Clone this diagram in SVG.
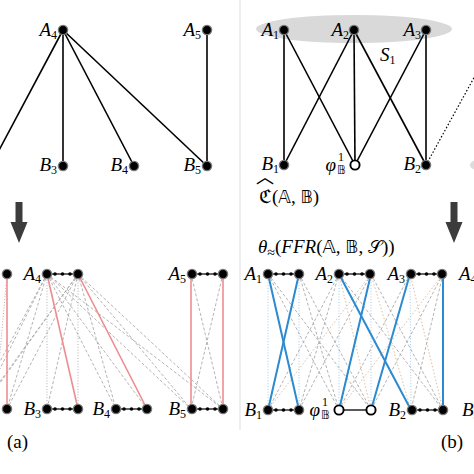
<svg xmlns="http://www.w3.org/2000/svg" width="474" height="474" viewBox="0 0 474 474">
<style>
.e{stroke:#000;stroke-width:1.6;fill:none}
.g{stroke:#aaa;stroke-width:0.9;stroke-dasharray:3,2;fill:none}
.gv{stroke:#aaa;stroke-width:0.9;stroke-dasharray:1,1.8;fill:none}
.bv{stroke:#9cc3e6;stroke-width:0.9;stroke-dasharray:1,1.8;fill:none}
.t{stroke:#d9b79a;stroke-width:0.9;stroke-dasharray:1.5,2;fill:none}
.r{stroke:#ee8c90;stroke-width:1.6;fill:none}
.b{stroke:#2b8ad0;stroke-width:2;fill:none}
.lb{font-family:"Liberation Serif","DejaVu Serif",serif;font-style:italic;font-size:19px;fill:#000}
.sb{font-size:12px;font-style:normal}
.m{font-family:"Liberation Serif","DejaVu Serif",serif;font-size:19px;fill:#000}
.ds{font-family:"DejaVu Sans",sans-serif;font-style:normal}
</style>
<defs>
<g id="n"><circle r="4.6" fill="#000" stroke="#777" stroke-width="1.4"/></g>
<g id="o"><circle r="4.6" fill="#fff" stroke="#000" stroke-width="1.9"/></g>
<g id="p"><line x1="0" y1="0" x2="31" y2="0" stroke="#000" stroke-width="1.2"/><circle cx="8" r="1.8"/><circle cx="15.5" r="1.8"/><circle cx="23" r="1.8"/><use href="#n"/><use href="#n" x="31"/></g>
<g id="op"><line x1="0" y1="0" x2="32" y2="0" stroke="#000" stroke-width="1.3"/><use href="#o"/><use href="#o" x="32"/></g>
<g id="arr"><rect x="-3.5" y="0" width="7" height="21" fill="#3c3c3c"/><polygon points="-8.5,20 8.5,20 0,41" fill="#3c3c3c"/></g>
</defs>
<rect width="474" height="474" fill="#fff"/>
<line x1="240" y1="0" x2="240" y2="430" stroke="#ddd" stroke-width="1"/>
<ellipse cx="354" cy="29" rx="98" ry="14" fill="#d9d9d9"/>
<ellipse cx="482" cy="165" rx="12" ry="6" fill="#dcdcdc"/>

<g id="connectors">
<line class="e" x1="63" y1="30" x2="-3" y2="154"/>
<line class="e" x1="63" y1="30" x2="63" y2="166"/>
<line class="e" x1="63" y1="30" x2="134" y2="166"/>
<line class="e" x1="63" y1="30" x2="207" y2="166"/>
<line class="e" x1="207" y1="30" x2="207" y2="166"/>
<line class="e" x1="284" y1="30" x2="284" y2="165"/>
<line class="e" x1="284" y1="30" x2="355" y2="165"/>
<line class="e" x1="354" y1="30" x2="284" y2="165"/>
<line class="e" x1="354" y1="30" x2="355" y2="165"/>
<line class="e" x1="354" y1="30" x2="426" y2="165"/>
<line class="e" x1="426" y1="30" x2="355" y2="165"/>
<line class="e" x1="426" y1="30" x2="426" y2="165"/>
<line x1="426" y1="165" x2="476" y2="74" stroke="#000" stroke-width="1.2" stroke-dasharray="1.5,2"/>
<line class="g" x1="47" y1="274" x2="-20" y2="409"/>
<line class="g" x1="78" y1="274" x2="-20" y2="409"/>
<line class="g" x1="47" y1="274" x2="7" y2="409"/>
<line class="g" x1="78" y1="274" x2="7" y2="409"/>
<line class="g" x1="47" y1="274" x2="-10" y2="380"/>
<line class="g" x1="78" y1="274" x2="-5" y2="390"/>
<line class="gv" x1="47" y1="274" x2="47" y2="409"/>
<line class="gv" x1="78" y1="274" x2="78" y2="409"/>
<line class="g" x1="78" y1="274" x2="47" y2="409"/>
<line class="g" x1="47" y1="274" x2="116" y2="409"/>
<line class="g" x1="47" y1="274" x2="147" y2="409"/>
<line class="g" x1="78" y1="274" x2="116" y2="409"/>
<line class="g" x1="47" y1="274" x2="191" y2="409"/>
<line class="g" x1="47" y1="274" x2="223" y2="409"/>
<line class="g" x1="78" y1="274" x2="191" y2="409"/>
<line class="g" x1="78" y1="274" x2="223" y2="409"/>
<line class="g" x1="191" y1="274" x2="223" y2="409"/>
<line class="g" x1="223" y1="274" x2="191" y2="409"/>
<line class="gv" x1="7" y1="274" x2="-5" y2="409"/>
<line class="r" x1="7" y1="274" x2="7" y2="409"/>
<line class="r" x1="47" y1="274" x2="78" y2="409"/>
<line class="r" x1="78" y1="274" x2="147" y2="409"/>
<line class="r" x1="191" y1="274" x2="191" y2="409"/>
<line class="r" x1="223" y1="274" x2="223" y2="409"/>
<line class="bv" x1="268" y1="274" x2="268" y2="410"/>
<line class="bv" x1="299" y1="274" x2="299" y2="410"/>
<line class="t" x1="268" y1="274" x2="299" y2="410"/>
<line class="t" x1="299" y1="274" x2="268" y2="410"/>
<line class="g" x1="268" y1="274" x2="339" y2="410"/>
<line class="g" x1="268" y1="274" x2="371" y2="410"/>
<line class="g" x1="299" y1="274" x2="339" y2="410"/>
<line class="g" x1="299" y1="274" x2="371" y2="410"/>
<line class="g" x1="339" y1="274" x2="268" y2="410"/>
<line class="g" x1="339" y1="274" x2="299" y2="410"/>
<line class="t" x1="371" y1="274" x2="268" y2="410"/>
<line class="g" x1="371" y1="274" x2="299" y2="410"/>
<line class="bv" x1="339" y1="274" x2="339" y2="410"/>
<line class="bv" x1="371" y1="274" x2="371" y2="410"/>
<line class="t" x1="339" y1="274" x2="371" y2="410"/>
<line class="g" x1="339" y1="274" x2="443" y2="410"/>
<line class="t" x1="371" y1="274" x2="411" y2="410"/>
<line class="g" x1="371" y1="274" x2="443" y2="410"/>
<line class="g" x1="410" y1="274" x2="339" y2="410"/>
<line class="t" x1="443" y1="274" x2="339" y2="410"/>
<line class="g" x1="443" y1="274" x2="371" y2="410"/>
<line class="bv" x1="410" y1="274" x2="411" y2="410"/>
<line class="t" x1="410" y1="274" x2="443" y2="410"/>
<line class="g" x1="443" y1="274" x2="411" y2="410"/>
<line class="b" x1="268" y1="274" x2="299" y2="410"/>
<line class="b" x1="299" y1="274" x2="268" y2="410"/>
<line class="b" x1="339" y1="274" x2="411" y2="410"/>
<line class="b" x1="371" y1="274" x2="339" y2="410"/>
<line class="b" x1="410" y1="274" x2="371" y2="410"/>
<line class="b" x1="443" y1="274" x2="443" y2="410"/>
</g>

<g id="A4"><use href="#n" x="63" y="30"/><text class="lb" x="57" y="36" text-anchor="end">A<tspan class="sb" dy="3">4</tspan></text></g>
<g id="A5"><use href="#n" x="207" y="30"/><text class="lb" x="201" y="36" text-anchor="end">A<tspan class="sb" dy="3">5</tspan></text></g>
<g id="B3"><use href="#n" x="63" y="166"/><text class="lb" x="57" y="171" text-anchor="end">B<tspan class="sb" dy="3">3</tspan></text></g>
<g id="B4"><use href="#n" x="134" y="166"/><text class="lb" x="128" y="171" text-anchor="end">B<tspan class="sb" dy="3">4</tspan></text></g>
<g id="B5"><use href="#n" x="207" y="166"/><text class="lb" x="201" y="171" text-anchor="end">B<tspan class="sb" dy="3">5</tspan></text></g>
<g id="A1"><use href="#n" x="284" y="30"/><text class="lb" x="279" y="36" text-anchor="end">A<tspan class="sb" dy="3">1</tspan></text></g>
<g id="A2"><use href="#n" x="354" y="30"/><text class="lb" x="349" y="36" text-anchor="end">A<tspan class="sb" dy="3">2</tspan></text></g>
<g id="A3"><use href="#n" x="426" y="30"/><text class="lb" x="421" y="36" text-anchor="end">A<tspan class="sb" dy="3">3</tspan></text></g>
<g id="B1"><use href="#n" x="284" y="165"/><text class="lb" x="279" y="170" text-anchor="end">B<tspan class="sb" dy="3">1</tspan></text></g>
<g id="phi"><use href="#o" x="355" y="165"/><text class="lb" x="336" y="171" text-anchor="end">φ</text><text class="lb sb" x="338" y="161">1</text><text class="sb ds" x="337" y="174" font-size="10">𝔹</text></g>
<g id="B2"><use href="#n" x="426" y="165"/><text class="lb" x="421" y="170" text-anchor="end">B<tspan class="sb" dy="3">2</tspan></text></g>
<text class="lb" x="380" y="61" font-size="20">S<tspan class="sb" dy="3">1</tspan></text>
<text x="256" y="183" font-family="'Noto Sans CJK SC',sans-serif" font-size="18" fill="#000">︿</text>
<text class="m" x="259" y="203" font-size="20">ℭ(<tspan class="ds" font-size="17">𝔸</tspan>, <tspan class="ds" font-size="17">𝔹</tspan>)</text>

<use href="#arr" x="19" y="202"/>
<use href="#arr" x="454" y="202"/>

<text class="m" x="258" y="253" font-size="21"><tspan font-style="italic">θ</tspan><tspan font-size="14" dy="4">≈</tspan><tspan dy="-4">(</tspan><tspan font-style="italic">FFR</tspan>(<tspan class="ds" font-size="18">𝔸</tspan>, <tspan class="ds" font-size="18">𝔹</tspan>, <tspan class="ds" font-size="18">𝒮</tspan>))</text>

<g id="L0t"><use href="#n" x="7" y="274"/></g>
<g id="L0b"><use href="#n" x="7" y="409"/></g>
<g id="A4x"><use href="#p" x="47" y="274"/><text class="lb" x="41" y="280" text-anchor="end">A<tspan class="sb" dy="3">4</tspan></text></g>
<g id="A5x"><use href="#p" x="192" y="274"/><text class="lb" x="186" y="280" text-anchor="end">A<tspan class="sb" dy="3">5</tspan></text></g>
<g id="B3x"><use href="#p" x="47" y="409"/><text class="lb" x="41" y="415" text-anchor="end">B<tspan class="sb" dy="3">3</tspan></text></g>
<g id="B4x"><use href="#p" x="116" y="409"/><text class="lb" x="110" y="415" text-anchor="end">B<tspan class="sb" dy="3">4</tspan></text></g>
<g id="B5x"><use href="#p" x="192" y="409"/><text class="lb" x="186" y="415" text-anchor="end">B<tspan class="sb" dy="3">5</tspan></text></g>
<g id="A1x"><use href="#p" x="268" y="274"/><text class="lb" x="262" y="280" text-anchor="end">A<tspan class="sb" dy="3">1</tspan></text></g>
<g id="A2x"><use href="#p" x="339" y="274"/><text class="lb" x="333" y="280" text-anchor="end">A<tspan class="sb" dy="3">2</tspan></text></g>
<g id="A3x"><use href="#p" x="411" y="274"/><text class="lb" x="405" y="280" text-anchor="end">A<tspan class="sb" dy="3">3</tspan></text></g>
<g id="A4r"><text class="lb" x="459" y="280">A<tspan class="sb" dy="3">4</tspan></text></g>
<g id="B1x"><use href="#p" x="268" y="410"/><text class="lb" x="262" y="416" text-anchor="end">B<tspan class="sb" dy="3">1</tspan></text></g>
<g id="phix"><use href="#op" x="339" y="410"/><text class="lb" x="320" y="416" text-anchor="end">φ</text><text class="lb sb" x="322" y="406">1</text><text class="sb ds" x="321" y="419" font-size="10">𝔹</text></g>
<g id="B2x"><use href="#p" x="412" y="410"/><text class="lb" x="406" y="416" text-anchor="end">B<tspan class="sb" dy="3">2</tspan></text></g>
<g id="B3r"><text class="lb" x="462" y="416">B<tspan class="sb" dy="3">3</tspan></text></g>

<text class="m" x="7" y="448" font-size="19">(a)</text>
<text class="m" x="441" y="448" font-size="19">(b)</text>
</svg>
